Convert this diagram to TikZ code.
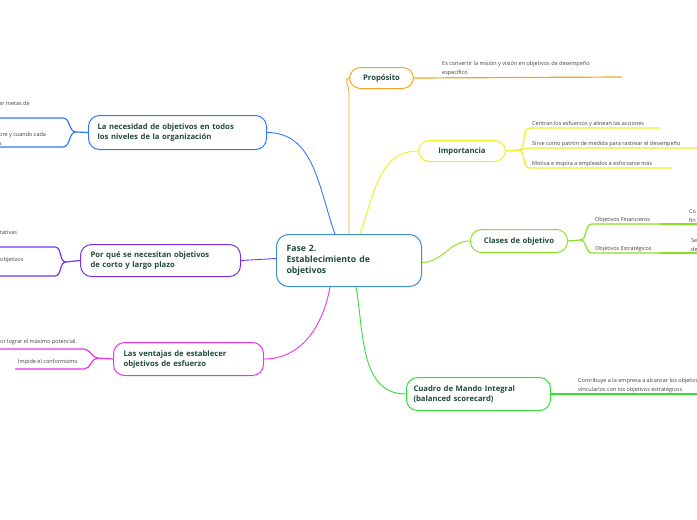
\documentclass[tikz,border=0pt]{standalone}
\usepackage{fontspec}
\setmainfont{Open Sans}
\definecolor{txt}{HTML}{1F4A3C}
\definecolor{cblue}{HTML}{3D8FD0}
\definecolor{corange}{HTML}{F5A623}
\definecolor{cyellow}{HTML}{EEEE22}
\definecolor{clime}{HTML}{88E022}
\definecolor{cgreen}{HTML}{33E033}
\definecolor{cnavy}{HTML}{3377FF}
\definecolor{cpurple}{HTML}{7733EE}
\definecolor{cmag}{HTML}{EE33EE}
\begin{document}
\begin{tikzpicture}[x=1pt,y=-1pt,
  mainn/.style={draw=#1,line width=1pt,rounded corners=11pt,text=txt,font=\fontsize{7.7}{10}\selectfont\bfseries,align=left,inner xsep=0pt,anchor=north west},
  leaf/.style={font=\fontsize{5.5}{9}\selectfont,text=black!75,anchor=south west,inner sep=1pt,align=left},
  conn/.style={draw=#1,line width=0.9pt},
  uline/.style={draw=#1,line width=1.2pt}]
\useasboundingbox (0,0) rectangle (697,520);
\clip (0,0) rectangle (697,520);
% center
\node[draw=cblue,line width=1pt,rounded corners=12pt,minimum width=145pt,minimum height=52pt,anchor=north west,text=txt,
  font=\fontsize{8.7}{11}\selectfont\bfseries,align=left,text width=125pt] (c) at (276,234) {Fase 2.\\Establecimiento de\\objetivos};
% main nodes
\node[mainn=corange,minimum width=64pt,minimum height=21pt,text width=64pt,align=center] (p) at (349,67) {Propósito};
\node[mainn=cyellow,minimum width=87pt,minimum height=21pt,text width=87pt,align=center] (i) at (418,140) {Importancia};
\node[mainn=clime,minimum width=97pt,minimum height=23pt,text width=97pt,align=center] (k) at (470,229) {Clases de objetivo};
\node[mainn=cgreen,minimum width=144pt,minimum height=33pt,text width=130pt,inner xsep=7pt] (m) at (406,377) {Cuadro de Mando Integral\\(balanced scorecard)};
\node[mainn=cnavy,minimum width=178pt,minimum height=34pt,text width=160pt,inner xsep=9pt] (n) at (88,115) {La necesidad de objetivos en todos\\los niveles de la organización};
\node[mainn=cpurple,minimum width=160pt,minimum height=32pt,text width=140pt,inner xsep=10pt] (q) at (80,244) {Por qué se necesitan objetivos\\de corto y largo plazo};
\node[mainn=cmag,minimum width=150pt,minimum height=33pt,text width=130pt,inner xsep=10pt] (v) at (113,342) {Las ventajas de establecer\\objetivos de esfuerzo};
% connectors
\coordinate (c1) at ([xshift=73pt]c.north west);
\coordinate (c1b) at (349,92);
\draw[conn=corange] (c1) -- (c1b) to[out=90,in=180] (p.west);
\draw[conn=cyellow] ([xshift=84pt]c.north west) to[out=70,in=180] (i.west);
\draw[conn=clime] ([yshift=-2pt]c.east) to[out=0,in=180] (k.west);
\draw[conn=cgreen] ([xshift=80pt]c.south west) to[out=-80,in=180] (m.west);
\draw[conn=cnavy] ([xshift=59pt]c.north west) to[out=110,in=0] (n.east);
\draw[conn=cpurple] ([yshift=2pt]c.west) -- (q.east);
\draw[conn=cmag] ([xshift=54pt]c.south west) to[out=-100,in=0] (v.east);
% Propósito leaf
\coordinate (p1) at (622,77);
\draw[uline=corange] (p.east) -- (p1);
\node[leaf] (pt) at (441,77) {Es convertir la misión y visión en objetivos de desempeño\\específico};
% Importancia leaves
\coordinate (ib) at (518,150);
\draw[uline=cyellow] (i.east) -- (ib);
\foreach \yy/\xe/\t [count=\k] in {128/660/{Centran los esfuerzos y alinean las acciones},148/700/{Sirve como patrón de medida para rastrear el desempeño},168/672/{Motiva e inspira a empleados a esforzarse más}}{
  \coordinate (ia\k) at (530,\yy);
  \coordinate (ie\k) at (\xe,\yy);
  \draw[uline=cyellow] (ib) to[out=0,in=180] (ia\k) -- (ie\k);
  \node[leaf] (it\k) at (531,\yy) {\t};
}
% Clases leaves
\coordinate (kb) at (580,240);
\draw[uline=clime] (k.east) -- (kb);
\coordinate (ka1) at (592,224); \coordinate (ke1) at (660,224);
\coordinate (ka2) at (592,253); \coordinate (ke2) at (660,253);
\draw[uline=clime] (kb) to[out=0,in=180] (ka1) -- (ke1);
\draw[uline=clime] (kb) to[out=0,in=180] (ka2) -- (ke2);
\node[leaf] (kt1) at (594,224) {Objetivos Financieros};
\node[leaf] (kt2) at (594,253) {Objetivos Estratégicos};
\coordinate (kf1) at (697,224); \coordinate (kf2) at (697,253);
\draw[uline=clime] (ke1) -- (kf1);
\draw[uline=clime] (ke2) -- (kf2);
\node[leaf] (ku1) at (688,224) {Co\\fin};
\node[leaf] (ku2) at (690,253) {Se\\de};
% Cuadro leaf
\coordinate (m1) at (697,394);
\draw[uline=cgreen] (m.east) -- (m1);
\node[leaf] (mt) at (577,394) {Contribuye a la empresa a alcanzar los objetivos\\vincularlos con los objetivos estratégicos};
% Necesidad leaves
\coordinate (nb) at (76,132);
\draw[uline=cnavy] (n.west) -- (nb);
\coordinate (na1) at (63,118); \coordinate (na2) at (63,147);
\coordinate (nz1) at (0,118); \coordinate (nz2) at (0,147);
\draw[uline=cnavy] (nb) to[out=180,in=0] (na1) -- (nz1);
\draw[uline=cnavy] (nb) to[out=180,in=0] (na2) -- (nz2);
\node[leaf] (nt0) at (-2,107) {ar metas de};
\node[leaf] (nt1) at (-2,147) {ore y cuando cada\\s};
% Por qué leaves
\coordinate (qb) at (66,262);
\draw[uline=cpurple] (q.west) -- (qb);
\coordinate (qa1) at (55,247); \coordinate (qa2) at (55,276);
\coordinate (qz1) at (0,247); \coordinate (qz2) at (0,276);
\draw[uline=cpurple] (qb) to[out=180,in=0] (qa1) -- (qz1);
\draw[uline=cpurple] (qb) to[out=180,in=0] (qa2) -- (qz2);
\node[leaf] (qt0) at (-1,236) {tativas};
\node[leaf] (qt1) at (-1,264) {objetivos};
% Ventajas leaves
\coordinate (vb) at (98,358);
\draw[uline=cmag] (v.west) -- (vb);
\coordinate (va1) at (84,349); \coordinate (va2) at (84,369);
\coordinate (vz1) at (0,349); \coordinate (vz2) at (15,369);
\draw[uline=cmag] (vb) to[out=180,in=0] (va1) -- (vz1);
\draw[uline=cmag] (vb) to[out=180,in=0] (va2) -- (vz2);
\node[leaf] (vt1) at (-1,346) {or lograr el máximo potencial.};
\node[leaf] (vt2) at (17,366) {Impide el conformismo};
\end{tikzpicture}
\end{document}
